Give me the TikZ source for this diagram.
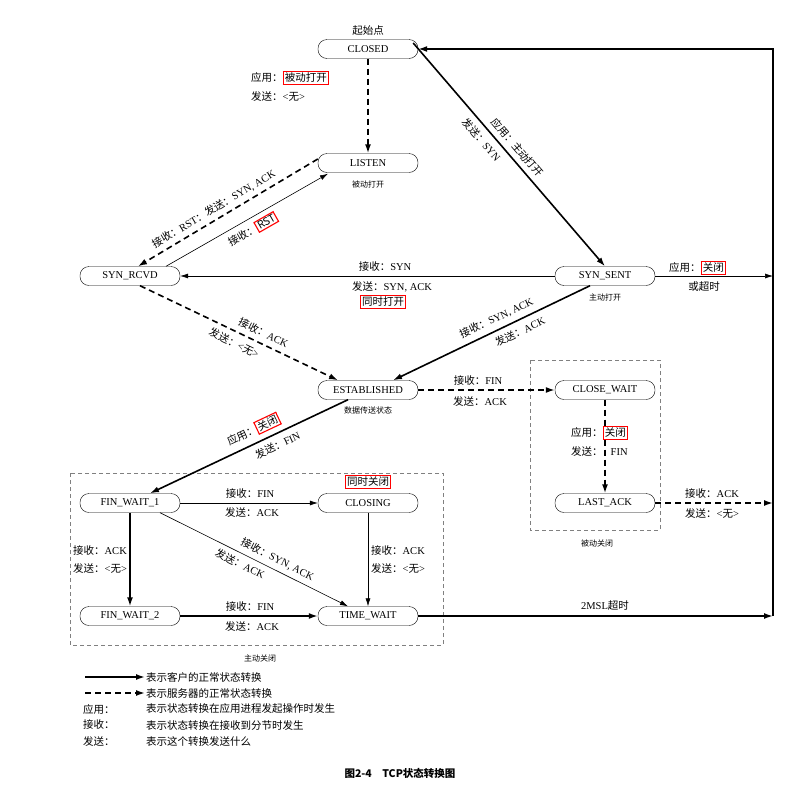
\documentclass[tikz,border=0pt]{standalone}
\usepackage{fontspec}
\setmainfont{Liberation Serif}
\newfontfamily\cjkf{Noto Sans CJK SC}
\newcommand{\zh}[1]{{\cjkf #1}}
\newcommand{\rbx}[1]{{\setlength\fboxsep{1pt}\setlength\fboxrule{1.1pt}\fcolorbox{red}{white}{#1}}}
\usetikzlibrary{arrows.meta}
\begin{document}
\begin{tikzpicture}[x=1pt,y=-1pt,font=\fontsize{10.5}{12}\selectfont,
 st/.style={draw,rounded corners=9pt,minimum width=100pt,minimum height=19pt,inner sep=1pt},
 cl/.style={line width=1.6pt,-{Latex[length=9pt,width=6pt]}},
 sv/.style={line width=1.6pt,dash pattern=on 6pt off 4pt,-{Latex[length=9pt,width=6pt]}},
 th/.style={line width=0.6pt,-{Latex[length=8pt,width=5pt]}},
 lb/.style={inner sep=1pt,align=left},
 box/.style={draw=gray,dash pattern=on 4pt off 3pt,line width=0.6pt}]
\useasboundingbox (0,0) rectangle (804,793);
\node[st] (closed) at (368,49) {CLOSED};
\node[st] (listen) at (368,163) {LISTEN};
\node[st] (rcvd) at (130,276) {SYN\_RCVD};
\node[st] (sent) at (605,276) {SYN\_SENT};
\node[st] (est) at (368,390) {ESTABLISHED};
\node[st] (cw) at (605,390) {CLOSE\_WAIT};
\node[st] (la) at (605,503) {LAST\_ACK};
\node[st] (fw1) at (130,503) {FIN\_WAIT\_1};
\node[st] (cls) at (368,503) {CLOSING};
\node[st] (fw2) at (130,616) {FIN\_WAIT\_2};
\node[st] (tw) at (368,616) {TIME\_WAIT};
\coordinate (rt) at (773,49);
\coordinate (rb) at (773,616);
\coordinate (r1) at (773,276);
\coordinate (r2) at (773,503);
% boxes
\draw[box] (530,360) rectangle (660,530);
\node (pc) at (597,543) {\zh{\footnotesize 被动关闭}};
\draw[box] (70,473) rectangle (443,645);
\node (ac) at (260,658) {\zh{\footnotesize 主动关闭}};
% labels
\node (start) at (368,31) {\zh{起始点}};
\node[lb,anchor=west] (a1) at (250,78) {\zh{应用：\rbx{被动打开}}};
\node[lb,anchor=west] (a2) at (250,97) {\zh{发送：}<\zh{无}>};
\node (pa) at (368,184) {\zh{\footnotesize 被动打开}};
\node (aa) at (605,297) {\zh{\footnotesize 主动打开}};
\node (dt) at (368,410) {\zh{\footnotesize 数据传送状态}};
% edges
\draw[sv] (closed) -- (listen);
\coordinate (cs) at ([xshift=-5pt,yshift=6pt]closed.east);
\draw[cl] (cs) -- (sent.north);
\path (cs) -- (sent.north) node[sloped,above=5pt,pos=.5,lb] (l1) {\zh{应用：主动打开}}
  node[sloped,below=5pt,pos=.4,lb] (l2) {\zh{发送：}SYN};
\draw[cl] (rb) -- (rt) -- (closed);
\draw[th] (sent) -- (r1);
\node[lb,anchor=west] (c1) at (668,268) {\zh{应用：\rbx{关闭}}};
\node[lb] (c2) at (704,287) {\zh{或超时}};
\coordinate (ls) at ([yshift=4pt]listen.west);
\coordinate (rn) at ([xshift=8pt]rcvd.north);
\draw[sv] (ls) -- (rn);
\path (rn) -- (ls) node[sloped,above=4pt,pos=.45,lb] (l3) {\zh{接收：}RST\zh{：发送：}SYN, ACK};
\coordinate (rn2) at ([xshift=36pt]rcvd.north);
\coordinate (ls2) at ([xshift=-40pt,yshift=-1pt]listen.south);
\draw[th] (rn2) -- (ls2);
\path (rn2) -- (ls2) node[sloped,below=4pt,pos=.5,lb] (l4) {\zh{接收：\rbx{RST}}};
\draw[th] (sent) -- (rcvd);
\node[lb] (s1) at (385,267) {\zh{接收：}SYN};
\node[lb] (s2) at (392,287) {\zh{发送：}SYN, ACK};
\node (s3) at (383,302) {\zh{\rbx{同时打开}}};
\coordinate (rs) at ([xshift=10pt]rcvd.south);
\coordinate (en) at ([xshift=-30pt]est.north);
\draw[sv] (rs) -- (en);
\path (rs) -- (en) node[sloped,above=5pt,pos=.6,lb] (l5) {\zh{接收：}ACK}
  node[sloped,below=5pt,pos=.5,lb] (l6) {\zh{发送：}<\zh{无}>};
\coordinate (ss) at ([xshift=-15pt]sent.south);
\coordinate (en2) at ([xshift=25pt]est.north);
\draw[cl] (ss) -- (en2);
\path (en2) -- (ss) node[sloped,above=5pt,pos=.55,lb] (l7) {\zh{接收：}SYN, ACK}
  node[sloped,below=5pt,pos=.62,lb] (l8) {\zh{发送：}ACK};
\draw[sv] (est) -- (cw);
\node[lb] (e1) at (478,381) {\zh{接收：}FIN};
\node[lb] (e2) at (480,401) {\zh{发送：}ACK};
\draw[sv] (cw) -- (la);
\node[lb,anchor=west] (w1) at (570,433) {\zh{应用：\rbx{关闭}}};
\node[lb,anchor=west] (w2) at (570,451) {\zh{发送：}\hspace{8pt}FIN};
\draw[sv] (la) -- (r2);
\node[lb] (k1) at (712,494) {\zh{接收：}ACK};
\node[lb] (k2) at (712,513) {\zh{发送：}<\zh{无}>};
\coordinate (es) at ([xshift=-20pt]est.south);
\coordinate (fn) at ([xshift=20pt]fw1.north);
\draw[cl] (es) -- (fn);
\path (fn) -- (es) node[sloped,above=5pt,pos=.55,lb] (l9) {\zh{应用：\rbx{关闭}}}
  node[sloped,below=5pt,pos=.62,lb] (l10) {\zh{发送：}FIN};
\draw[th] (fw1) -- (cls);
\node[lb] (f1) at (250,494) {\zh{接收：}FIN};
\node[lb] (f2) at (252,512) {\zh{发送：}ACK};
\node (f3) at (368,482) {\zh{\rbx{同时关闭}}};
\coordinate (fs) at ([xshift=30pt]fw1.south);
\coordinate (tn) at ([xshift=-20pt]tw.north);
\draw[th] (fs) -- (tn);
\path (fs) -- (tn) node[sloped,above=4pt,pos=.6,lb] (l11) {\zh{接收：}SYN, ACK}
  node[sloped,below=4pt,pos=.45,lb] (l12) {\zh{发送：}ACK};
\draw[cl] (fw1) -- (fw2);
\node[lb] (g1) at (100,551) {\zh{接收：}ACK};
\node[lb] (g2) at (100,568) {\zh{发送：}<\zh{无}>};
\draw[th] (cls) -- (tw);
\node[lb] (h1) at (398,551) {\zh{接收：}ACK};
\node[lb] (h2) at (398,568) {\zh{发送：}<\zh{无}>};
\draw[cl] (fw2) -- (tw);
\node[lb] (i1) at (250,607) {\zh{接收：}FIN};
\node[lb] (i2) at (252,626) {\zh{发送：}ACK};
\draw[cl] (tw) -- (rb);
\node[lb] (j1) at (605,606) {2MSL\zh{超时}};
% legend
\coordinate (la1) at (85,677); \coordinate (la2) at (145,677);
\coordinate (lb1) at (85,693); \coordinate (lb2) at (145,693);
\draw[cl] (la1) -- (la2);
\draw[sv] (lb1) -- (lb2);
\node[lb,anchor=west] (t1) at (145,677) {\zh{表示客户的正常状态转换}};
\node[lb,anchor=west] (t2) at (145,693) {\zh{表示服务器的正常状态转换}};
\node[lb,anchor=west] (t3) at (82,709) {\zh{应用：}};
\node[lb,anchor=west] (t3b) at (145,709) {\zh{表示状态转换在应用进程发起操作时发生}};
\node[lb,anchor=west] (t4) at (82,725) {\zh{接收：}};
\node[lb,anchor=west] (t4b) at (145,725) {\zh{表示状态转换在接收到分节时发生}};
\node[lb,anchor=west] (t5) at (82,741) {\zh{发送：}};
\node[lb,anchor=west] (t5b) at (145,741) {\zh{表示这个转换发送什么}};
\node (cap) at (400,773) {\zh{\bfseries 图2-4\quad TCP状态转换图}};
\end{tikzpicture}
\end{document}
